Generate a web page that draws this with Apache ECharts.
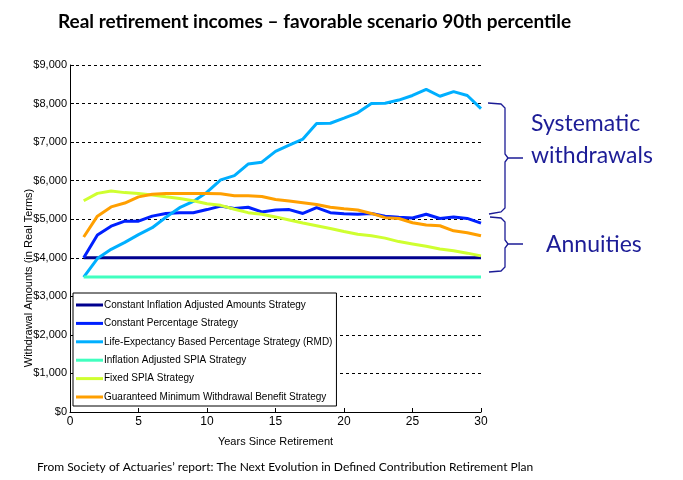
<!DOCTYPE html>
<html>
<head>
<meta charset="utf-8">
<script src="https://cdn.jsdelivr.net/npm/echarts@6/dist/echarts.min.js"></script>
<style>
  html, body { margin: 0; padding: 0; background: #fff; }
  #chart { width: 683px; height: 480px; }
</style>
</head>
<body>
<div id="chart"></div>
<script>
const years = [1, 2, 3, 4, 5, 6, 7, 8, 9, 10, 11, 12, 13, 14, 15, 16, 17, 18, 19, 20, 21, 22, 23, 24, 25, 26, 27, 28, 29, 30];

const seriesNames = [
  "Constant Inflation Adjusted Amounts Strategy",
  "Constant Percentage Strategy",
  "Life-Expectancy Based Percentage Strategy (RMD)",
  "Inflation Adjusted SPIA Strategy",
  "Fixed SPIA Strategy",
  "Guaranteed Minimum Withdrawal Benefit Strategy",
];

const constantInflation = [4000, 4000, 4000, 4000, 4000, 4000, 4000, 4000, 4000, 4000, 4000, 4000, 4000, 4000, 4000, 4000, 4000, 4000, 4000, 4000, 4000, 4000, 4000, 4000, 4000, 4000, 4000, 4000, 4000, 4000];
const constantPercentage = [4000, 4590, 4820, 4950, 4950, 5080, 5150, 5170, 5170, 5250, 5340, 5280, 5310, 5190, 5240, 5250, 5150, 5300, 5170, 5140, 5130, 5150, 5080, 5050, 5030, 5130, 5020, 5060, 5020, 4900];
const lifeExpectancy = [3500, 3980, 4220, 4400, 4600, 4780, 5050, 5300, 5460, 5700, 6020, 6130, 6430, 6480, 6760, 6920, 7080, 7480, 7490, 7620, 7760, 8000, 8010, 8090, 8210, 8370, 8190, 8310, 8210, 7870];
const inflationSpia = [3500, 3500, 3500, 3500, 3500, 3500, 3500, 3500, 3500, 3500, 3500, 3500, 3500, 3500, 3500, 3500, 3500, 3500, 3500, 3500, 3500, 3500, 3500, 3500, 3500, 3500, 3500, 3500, 3500, 3500];
const fixedSpia = [5480, 5670, 5730, 5690, 5670, 5630, 5580, 5540, 5480, 5400, 5360, 5260, 5170, 5130, 5060, 4980, 4900, 4830, 4760, 4680, 4610, 4570, 4510, 4420, 4360, 4300, 4230, 4180, 4120, 4050];
const gmwb = [4540, 5080, 5320, 5420, 5580, 5650, 5670, 5670, 5670, 5670, 5660, 5610, 5610, 5590, 5510, 5470, 5430, 5380, 5310, 5270, 5240, 5150, 5040, 5020, 4910, 4850, 4830, 4700, 4650, 4570];

const colors = ["#00008f", "#0020ff", "#00afff", "#40ffbf", "#cfff30", "#ff9f00"];
const allData = [constantInflation, constantPercentage, lifeExpectancy, inflationSpia, fixedSpia, gmwb];

const narrow = "'Liberation Sans Narrow', 'Liberation Sans', sans-serif";
const calibriLike = "Lato, 'Open Sans', sans-serif";
const annoColor = "#1c1c96";

const chart = echarts.init(document.getElementById("chart"));

const series = seriesNames.map((name, i) => ({
  name: name,
  type: "line",
  data: years.map((y, j) => [y, allData[i][j]]),
  symbol: "none",
  lineStyle: { color: colors[i], width: 3 },
  itemStyle: { color: colors[i] },
  z: 2 + i,
}));

chart.setOption({
  animation: false,
  backgroundColor: "#fff",
  title: {
    text: "Real retirement incomes \u2013 favorable scenario 90th percentile",
    left: 53,
    top: 7,
    textStyle: { fontFamily: calibriLike, fontSize: 19, fontWeight: "bold", color: "#000" },
  },
  grid: { left: 70, right: 202, top: 65, bottom: 68 },
  legend: {
    orient: "vertical",
    left: 73,
    top: 293,
    padding: [6, 4, 3, 3],
    icon: "rect",
    itemWidth: 27,
    itemHeight: 3,
    itemGap: 6.4,
    borderColor: "#000",
    borderWidth: 1,
    backgroundColor: "#fff",
    z: 10,
    textStyle: { fontFamily: narrow, fontSize: 10, lineHeight: 12, color: "#000", padding: [0, 0, 0, -4] },
    data: seriesNames,
  },
  xAxis: {
    type: "value",
    min: 0,
    max: 30,
    interval: 5,
    name: "Years Since Retirement",
    nameLocation: "middle",
    nameGap: 24,
    nameTextStyle: { fontFamily: narrow, fontSize: 11, color: "#000" },
    axisLine: { lineStyle: { color: "#000", width: 1 } },
    axisTick: { inside: true, length: 4, lineStyle: { color: "#000" } },
    axisLabel: { fontFamily: narrow, fontSize: 12, color: "#000", margin: 4 },
    splitLine: { show: false },
  },
  yAxis: {
    type: "value",
    min: 0,
    max: 9000,
    interval: 1000,
    axisLine: { show: true, lineStyle: { color: "#000", width: 1 } },
    axisTick: { show: true, inside: true, length: 4, lineStyle: { color: "#000" } },
    axisLabel: {
      fontFamily: narrow,
      fontSize: 11,
      color: "#000",
      margin: 3,
      formatter: (v) => "$" + v.toLocaleString("en-US"),
    },
    splitLine: { show: true, lineStyle: { color: "#000", type: [3, 3], width: 1 } },
  },
  graphic: [
    {
      type: "text",
      x: 29,
      y: 278,
      rotation: Math.PI / 2,
      style: {
        text: "Withdrawal Amounts (in Real Terms)",
        fontFamily: narrow,
        fontSize: 11,
        fill: "#000",
        textAlign: "center",
        textVerticalAlign: "middle",
      },
    },
    {
      type: "text",
      x: 37,
      y: 467,
      style: {
        text: "From Society of Actuaries\u2019 report: The Next Evolution in Defined Contribution Retirement Plan",
        fontFamily: calibriLike,
        fontSize: 12,
        fill: "#000",
        textVerticalAlign: "middle",
      },
    },
    {
      type: "text",
      x: 531,
      y: 124,
      style: { text: "Systematic", fontFamily: calibriLike, fontSize: 23, fill: annoColor, textVerticalAlign: "middle" },
    },
    {
      type: "text",
      x: 531,
      y: 156,
      style: { text: "withdrawals", fontFamily: calibriLike, fontSize: 23, fill: annoColor, textVerticalAlign: "middle" },
    },
    {
      type: "text",
      x: 546,
      y: 245,
      style: { text: "Annuities", fontFamily: calibriLike, fontSize: 23, fill: annoColor, textVerticalAlign: "middle" },
    },
    {
      type: "polyline",
      shape: { points: [[488, 103], [501, 104], [505, 108], [505, 154], [508, 158], [523, 158]] },
      style: { stroke: annoColor, lineWidth: 1.3, fill: null },
    },
    {
      type: "polyline",
      shape: { points: [[508, 158], [505, 162], [505, 208], [501, 212], [489, 214]] },
      style: { stroke: annoColor, lineWidth: 1.3, fill: null },
    },
    {
      type: "polyline",
      shape: { points: [[490, 217], [501, 218], [505, 222], [505, 240], [508, 244], [523, 244]] },
      style: { stroke: annoColor, lineWidth: 1.3, fill: null },
    },
    {
      type: "polyline",
      shape: { points: [[508, 244], [505, 248], [505, 267], [501, 271], [489, 272]] },
      style: { stroke: annoColor, lineWidth: 1.3, fill: null },
    },
  ],
  series: series,
});
</script>
</body>
</html>
